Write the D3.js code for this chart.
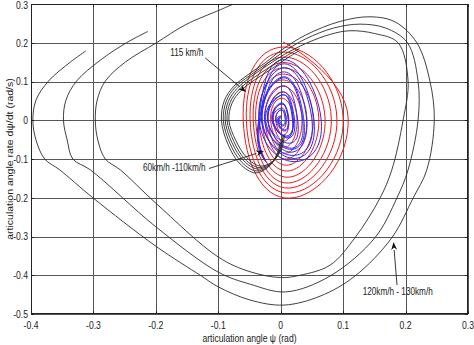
<!DOCTYPE html>
<html>
<head>
<meta charset="utf-8">
<script src="https://cdn.jsdelivr.net/npm/d3@7"></script>
<style>
  html, body { margin: 0; padding: 0; background: #fff; }
  svg { display: block; }
  text { font-family: "Liberation Sans", Arial, sans-serif; fill: #222; }
</style>
</head>
<body>
<svg id="chart" width="474" height="345"></svg>
<script>
// Axis ticks
const xTicks = [-0.4, -0.3, -0.2, -0.1, 0, 0.1, 0.2, 0.3];
const xTickLabels = ["-0.4", "-0.3", "-0.2", "-0.1", "0", "0.1", "0.2", "0.3"];
const yTicks = [0.3, 0.2, 0.1, 0, -0.1, -0.2, -0.3, -0.4, -0.5];
const yTickLabels = ["0.3", "0.2", "0.1", "0", "-0.1", "-0.2", "-0.3", "-0.4", "-0.5"];

// Phase trajectories [psi (rad), dpsi/dt (rad/s)]
// 120 km/h – 130 km/h: three diverging orbits
const traj120 = [[0.003,-0.045],[-0.002,-0.079],[-0.016,-0.113],[-0.037,-0.126],[-0.059,-0.105],[-0.078,-0.058],[-0.089,0.000],[-0.084,0.048],[-0.070,0.082],[-0.048,0.112],[-0.021,0.142],[0.006,0.170],[0.040,0.198],[0.080,0.222],[0.111,0.231],[0.150,0.224],[0.188,0.200],[0.204,0.101],[0.196,0.000],[0.178,-0.128],[0.159,-0.201],[0.119,-0.303],[0.079,-0.374],[0.031,-0.400],[0.000,-0.406],[-0.049,-0.391],[-0.100,-0.353],[-0.200,-0.214],[-0.257,-0.128],[-0.281,-0.100],[-0.293,-0.051],[-0.297,0.000],[-0.294,0.052],[-0.281,0.101],[-0.249,0.150],[-0.199,0.200],[-0.153,0.246],[-0.097,0.285],[-0.070,0.304]];
const traj125 = [[0.001,-0.050],[-0.004,-0.083],[-0.018,-0.117],[-0.039,-0.131],[-0.062,-0.109],[-0.081,-0.061],[-0.092,0.000],[-0.087,0.050],[-0.073,0.085],[-0.050,0.115],[-0.023,0.145],[0.004,0.176],[0.040,0.210],[0.085,0.238],[0.127,0.248],[0.168,0.238],[0.203,0.200],[0.220,0.101],[0.220,0.000],[0.204,-0.128],[0.186,-0.201],[0.151,-0.303],[0.079,-0.402],[0.008,-0.443],[-0.049,-0.423],[-0.100,-0.392],[-0.200,-0.275],[-0.305,-0.128],[-0.333,-0.100],[-0.342,-0.051],[-0.348,0.000],[-0.344,0.052],[-0.327,0.101],[-0.289,0.155],[-0.247,0.200],[-0.213,0.229]];
const traj130 = [[-0.001,-0.056],[-0.006,-0.087],[-0.020,-0.121],[-0.041,-0.136],[-0.065,-0.113],[-0.084,-0.064],[-0.095,0.000],[-0.090,0.052],[-0.075,0.088],[-0.052,0.118],[-0.025,0.148],[0.002,0.182],[0.040,0.220],[0.095,0.255],[0.143,0.267],[0.183,0.254],[0.218,0.200],[0.239,0.101],[0.246,0.000],[0.234,-0.128],[0.212,-0.201],[0.178,-0.303],[0.119,-0.402],[0.063,-0.454],[0.005,-0.477],[-0.049,-0.464],[-0.100,-0.430],[-0.127,-0.402],[-0.200,-0.325],[-0.301,-0.200],[-0.354,-0.128],[-0.378,-0.100],[-0.392,-0.051],[-0.397,0.000],[-0.392,0.052],[-0.372,0.101],[-0.337,0.150],[-0.312,0.179]];
// extra turns near the limit cycle
const trajTurnA = [[0.004,-0.040],[0.000,-0.075],[-0.014,-0.109],[-0.035,-0.122],[-0.057,-0.101],[-0.075,-0.055],[-0.086,0.000],[-0.081,0.046],[-0.067,0.079],[-0.045,0.108],[-0.018,0.137],[0.008,0.165],[0.030,0.185]];
const trajTurnB = [[0.006,-0.036],[0.002,-0.071],[-0.012,-0.105],[-0.033,-0.118],[-0.054,-0.097],[-0.072,-0.052],[-0.083,0.000],[-0.078,0.044],[-0.064,0.076],[-0.042,0.104],[-0.015,0.132],[0.010,0.160],[0.028,0.178]];

// 115 km/h: slowly converging spiral (turning points top, right, bottom, left)
const traj115 = [[0.004,0.202],[0.108,0.006],[0.014,-0.201],[-0.060,-0.002],
  [0.004,0.189],[0.100,0.006],[0.014,-0.188],[-0.055,-0.002],
  [0.004,0.176],[0.090,0.006],[0.013,-0.175],[-0.049,-0.002],
  [0.004,0.163],[0.081,0.006],[0.012,-0.162],[-0.044,-0.002],
  [0.003,0.149],[0.071,0.006],[0.012,-0.147],[-0.040,-0.002],
  [0.003,0.135],[0.061,0.006],[0.011,-0.131],[-0.035,-0.002],
  [0.003,0.119],[0.052,0.006],[0.010,-0.116],[-0.030,-0.002],
  [0.002,0.104],[0.042,0.005],[0.009,-0.100],[-0.025,-0.002],
  [0.002,0.088],[0.034,0.005],[0.008,-0.085],[-0.020,-0.002],
  [0.002,0.073],[0.026,0.004],[0.007,-0.069],[-0.016,-0.001],
  [0.001,0.057],[0.020,0.004],[0.006,-0.054],[-0.012,-0.001],
  [0.001,0.042],[0.013,0.003],[0.005,-0.038],[-0.008,-0.001],
  [0.001,0.027],[0.009,0.002],[0.003,-0.023],[-0.004,0.000],
  [0.001,0.010]];

// 60 km/h – 110 km/h: faster converging spirals
const traj110 = [[-0.0219,-0.1103],[-0.0364,-0.0123],[0.0005,0.1555],[0.0630,0.0213],[0.0309,-0.1052],[-0.0332,-0.0148],[0.0021,0.1348],[0.0485,0.0187],[0.0261,-0.0897],[-0.0300,-0.0097],[0.0021,0.1116],[0.0357,0.0161],[0.0213,-0.0742],[-0.0252,-0.0071],[0.0021,0.0884],[0.0261,0.0135],[0.0165,-0.0587],[-0.0203,-0.0045],[0.0021,0.0652],[0.0181,0.0110],[0.0117,-0.0432],[-0.0139,-0.0019],[0.0005,0.0445],[0.0117,0.0084],[0.0069,-0.0277],[-0.0075,0.0006],[0.0005,0.0265],[0.0069,0.0058],[0.0037,-0.0123],[-0.0027,0.0032],[0.0005,0.0084]];
const traj85 = [[-0.0235,-0.1052],[-0.0348,-0.0071],[0.0021,0.1452],[0.0517,0.0187],[0.0277,-0.0974],[-0.0284,-0.0123],[0.0021,0.1090],[0.0341,0.0135],[0.0197,-0.0716],[-0.0203,-0.0045],[0.0021,0.0729],[0.0213,0.0110],[0.0133,-0.0458],[-0.0123,-0.0019],[0.0005,0.0419],[0.0117,0.0084],[0.0069,-0.0252],[-0.0059,0.0006],[0.0005,0.0110]];
const traj60 = [[-0.0252,-0.1026],[-0.0332,-0.0045],[0.0021,0.1245],[0.0405,0.0161],[0.0197,-0.0819],[-0.0235,-0.0071],[0.0021,0.0652],[0.0197,0.0110],[0.0101,-0.0406],[-0.0123,-0.0019],[0.0005,0.0316],[0.0085,0.0058],[0.0037,-0.0148],[-0.0043,0.0006],[0.0005,0.0058]];

// Annotations: text anchor point and arrow (from -> tip), in axis units
const notes = [
  { text: "115 km/h", at: [-0.177, 0.166], from: [-0.121, 0.161], tip: [-0.0556, 0.0729] },
  { text: "60km/h -110km/h", at: [-0.2206, -0.132], from: [-0.1148, -0.1245], tip: [-0.0268, -0.0794] },
  { text: "120km/h - 130km/h", at: [0.1313, -0.451], from: [0.1863, -0.4252], tip: [0.1807, -0.3142] }
];

const svg = d3.select("#chart");
const m = { left: 31, right: 468, top: 4, bottom: 314 };
const x = d3.scaleLinear().domain([-0.4, 0.3]).range([m.left, m.right]);
const y = d3.scaleLinear().domain([-0.5, 0.3]).range([m.bottom, m.top]);
const squeeze = 0.82; // horizontal text compression

svg.append("defs").append("clipPath").attr("id", "plotClip")
  .append("rect").attr("x", m.left).attr("y", m.top).attr("width", m.right - m.left).attr("height", m.bottom - m.top);

// grid
const grid = svg.append("g").attr("stroke", "#555").attr("stroke-width", 1).attr("shape-rendering", "crispEdges");
grid.selectAll(".gx").data(xTicks).join("line")
  .attr("x1", d => Math.round(x(d)) + 0.5).attr("x2", d => Math.round(x(d)) + 0.5)
  .attr("y1", m.top).attr("y2", m.bottom);
grid.selectAll(".gy").data(yTicks).join("line")
  .attr("y1", d => Math.round(y(d)) + 0.5).attr("y2", d => Math.round(y(d)) + 0.5)
  .attr("x1", m.left).attr("x2", m.right);

// curves
const plot = svg.append("g").attr("clip-path", "url(#plotClip)").attr("fill", "none");
const spiralLine = d3.line().x(d => x(d[0])).y(d => y(d[1])).curve(d3.curveCardinal.tension(-0.62));
const smoothLine = d3.line().x(d => x(d[0])).y(d => y(d[1])).curve(d3.curveCatmullRom.alpha(0.5));

plot.append("path").attr("d", spiralLine(traj115)).attr("stroke", "#f01818").attr("stroke-width", 1);
[traj110, traj85, traj60].forEach(t => {
  plot.append("path").attr("d", spiralLine(t)).attr("stroke", "#2828ff").attr("stroke-width", 1);
});
[traj120, traj125, traj130, trajTurnA, trajTurnB].forEach(t => {
  plot.append("path").attr("d", smoothLine(t)).attr("stroke", "#2b2b2b").attr("stroke-width", 0.9);
});

// axes frame and inward ticks
const axes = svg.append("g").attr("stroke", "#222").attr("stroke-width", 1).attr("shape-rendering", "crispEdges");
axes.append("rect").attr("x", m.left + 0.5).attr("y", m.top + 0.5).attr("width", m.right - m.left - 1).attr("height", m.bottom - m.top - 1).attr("fill", "none");
const tl = 3;
xTicks.forEach(v => {
  const px = Math.round(x(v)) + 0.5;
  axes.append("line").attr("x1", px).attr("x2", px).attr("y1", m.bottom).attr("y2", m.bottom - tl);
  axes.append("line").attr("x1", px).attr("x2", px).attr("y1", m.top).attr("y2", m.top + tl);
});
yTicks.forEach(v => {
  const py = Math.round(y(v)) + 0.5;
  axes.append("line").attr("y1", py).attr("y2", py).attr("x1", m.left).attr("x2", m.left + tl);
  axes.append("line").attr("y1", py).attr("y2", py).attr("x1", m.right).attr("x2", m.right - tl);
});

// tick labels
const fs = 10.5;
xTicks.forEach((v, i) => {
  svg.append("text").attr("transform", `translate(${x(v)},${m.bottom + 15}) scale(${squeeze},1)`)
    .attr("text-anchor", "middle").attr("font-size", fs).text(xTickLabels[i]);
});
yTicks.forEach((v, i) => {
  // keep the topmost label fully inside the canvas
  const base = Math.max(y(v) + 3.8, 9);
  svg.append("text").attr("transform", `translate(${m.left - 3},${base}) scale(${squeeze},1)`)
    .attr("text-anchor", "end").attr("font-size", fs).text(yTickLabels[i]);
});

// axis titles
svg.append("text").attr("transform", `translate(${(m.left + m.right) / 2},${m.bottom + 28}) scale(${squeeze},1)`)
  .attr("text-anchor", "middle").attr("font-size", fs).text("articulation angle \u03c8 (rad)");
svg.append("text").attr("transform", `translate(13,${(m.top + m.bottom) / 2}) rotate(-90) scale(1,${squeeze})`)
  .attr("text-anchor", "middle").attr("font-size", fs).text("articulation angle rate d\u03c8/dt (rad/s)");

// annotations with arrows
const ann = svg.append("g");
notes.forEach(n => {
  ann.append("text").attr("transform", `translate(${x(n.at[0])},${y(n.at[1])}) scale(${squeeze},1)`)
    .attr("font-size", 10).text(n.text);
  const x0 = x(n.from[0]), y0 = y(n.from[1]), x1 = x(n.tip[0]), y1 = y(n.tip[1]);
  const ang = Math.atan2(y1 - y0, x1 - x0);
  const hl = 8, hw = 3;
  const bx = x1 - hl * Math.cos(ang), by = y1 - hl * Math.sin(ang);
  ann.append("line").attr("x1", x0).attr("y1", y0).attr("x2", bx).attr("y2", by)
    .attr("stroke", "#222").attr("stroke-width", 0.9);
  const p = d3.path();
  p.moveTo(x1, y1);
  p.lineTo(bx + hw * Math.sin(ang), by - hw * Math.cos(ang));
  p.lineTo(x1 - (hl - 2.5) * Math.cos(ang), y1 - (hl - 2.5) * Math.sin(ang));
  p.lineTo(bx - hw * Math.sin(ang), by + hw * Math.cos(ang));
  p.closePath();
  ann.append("path").attr("d", p.toString()).attr("fill", "#111");
});
</script>
</body>
</html>
